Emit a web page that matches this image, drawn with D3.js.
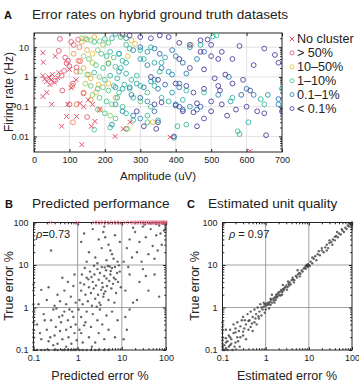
<!DOCTYPE html>
<html>
<head>
<meta charset="utf-8">
<title>Error rates on hybrid ground truth</title>
<script src="https://cdn.jsdelivr.net/npm/d3@7"></script>
<style>
body { margin: 0; background: #fff; }
svg { font-family: "Liberation Sans", Arial, Helvetica, sans-serif; }
</style>
</head>
<body>
<script>

// ---- panel A data: [amplitude uV, firing rate Hz, error %] ----
var noClusterA = [[25,6.5],[26,3.1],[25,1.1],[42,1.0],[36,0.7],[48,0.8],[57,0.65],[67,0.95],[45,0.55],[30,0.85],
  [52,1.2],[25,0.22],[36,0.3],[70,1.4],[119,0.8],[105,0.43],[50,0.12],[92,0.047],[120,0.047],[130,0.13],
  [153,0.17],[165,0.12],[186,0.08],[162,0.022],[78,0.022],[172,0.032],[229,0.01],[252,0.018],[271,0.03],
  [135,0.0053],[384,0.0095],[610,0.0032],[95,0.12],[140,0.1],[60,5],[100,1.8]]

var badA = [[73,19,80],[70,7.5,70],[96,3.5,65],[92,2.9,75],[105,15,60],[112,12,70],[100,2.3,85],[85,1.6,60],
  [60,0.75,70],[120,2.1,55],[130,3.4,65],[88,4.5,80],[78,1.1,70],[110,0.6,60],[140,0.28,55],[100,0.12,65],
  [150,0.045,60],[125,18,55],[80,0.35,75]]

var midA = [[135,15,20],[145,20,14],[112,6,25],[125,3.5,30],[140,2,18],[155,1.2,12],[160,0.9,15],[108,0.5,35],
  [182,0.55,13],[186,0.08,20],[160,0.17,25],[285,13,12],[275,17,15],[265,5,11],[444,12,11],[335,0.03,14],
  [110,0.03,30],[265,0.018,12],[120,1.5,40],[150,8,18],[165,6,12],[128,10,30],[175,0.3,16],[140,0.3,28],
  [210,3,11],[230,0.2,13],[120,0.12,35],[250,25,12],[170,22,15],[210,0.6,12]]

var goodA = [[135,20,5],[150,18,3],[160,17,6],[170,15,2.5],[185,16,4],[195,12,7],[200,19,2],[210,14,3.5],
  [220,20,1.5],[245,22,2],[260,12,1.8],[180,8,5],[190,6,3],[205,5,2.2],[215,7,1.6],[225,4.5,2.8],[240,6,1.3],
  [250,3.5,1.7],[140,5,6.5],[155,4,4],[165,3,8],[175,2.5,3],[195,2,2],[210,2.8,1.4],[230,2.2,1.9],[245,2,1.2],
  [130,1.5,5],[150,1.2,3.5],[170,1.4,2],[185,1,4.5],[200,0.8,2.5],[215,1.1,1.5],[235,0.9,1.1],[260,1.3,1.3],
  [275,0.8,2],[290,1.1,1.6],[145,0.6,7],[160,0.5,4],[180,0.4,2.5],[195,0.45,5],[210,0.35,3],[225,0.5,1.8],
  [240,0.3,2.2],[255,0.55,1.4],[270,0.4,3],[300,0.5,1.7],[320,0.3,2.5],[340,0.5,1.9],[165,0.25,6],[185,0.2,3],
  [205,0.15,2],[220,0.12,4],[235,0.2,1.5],[250,0.1,2.5],[280,0.2,1.3],[300,0.15,3.5],[330,0.1,2],[360,0.2,1.4],
  [180,0.08,4],[200,0.06,2.5],[215,0.05,6],[230,0.04,3],[260,0.06,1.8],[280,0.035,2.2],[320,0.05,1.6],
  [350,0.035,1.4],[170,0.017,3],[215,0.02,2],[260,0.018,1.5],[320,0.03,2.6],[395,0.009,1.7],[405,0.022,1.3],
  [430,0.025,2],[300,8,1.4],[310,4,1.2],[330,10,1.1],[270,9,2.1],[470,12,1.2],[505,23,1.5],[515,25,2],
  [480,0.3,1.5],[560,0.2,1.3],[575,0.015,1.8],[580,0.012,1.5],[605,0.03,1.2],[640,0.18,1.5],[650,0.12,1.2],
  [380,0.15,1.3],[430,0.35,1.8],[420,0.17,1.2],[360,3,1.1],[340,0.8,1.3],[355,1.5,1.2]]

var fineA = [[280,8,0.5],[300,10,0.3],[320,7,0.6],[340,9,0.4],[355,6,0.2],[370,4.5,0.8],[390,8,0.3],[400,5,0.5],
  [420,3,0.25],[440,10,0.6],[460,4,0.4],[480,7,0.3],[300,4,0.7],[320,2.5,0.4],[340,3,0.9],[360,2,0.35],
  [380,1.5,0.6],[270,0.45,0.5],[290,0.6,0.8],[310,0.45,0.3],[330,0.7,0.6],[350,0.4,0.45],[370,0.55,0.25],
  [390,0.3,0.7],[410,0.45,0.35],[250,0.4,0.9],[230,0.45,0.6],[275,0.25,0.4],[300,0.2,0.3],[320,0.15,0.5],
  [400,0.12,0.4],[410,0.1,0.2],[420,0.08,0.3],[440,0.1,0.6],[230,0.12,0.7],[250,0.07,0.5],[280,0.05,0.4],
  [300,0.04,0.6],[340,0.07,0.3],[220,0.025,0.5],[460,0.08,0.3],[470,0.1,0.2],[390,1.2,0.5],[410,0.6,0.3],
  [430,1.3,0.4],[260,3,0.8],[240,1.5,0.7],[550,1,0.3],[520,0.25,0.5],[600,0.4,0.3],[620,0.25,0.4],
  [660,0.25,0.6],[690,0.18,0.3],[690,0.12,0.5],[700,0.4,0.7],[585,0.25,0.2],[240,6,0.9],[260,20,0.7],
  [230,28,0.5],[555,0.15,0.8]]

var bestA = [[250,28,0.05],[270,25,0.03],[300,22,0.05],[330,20,0.08],[355,25,0.02],[380,22,0.06],[410,14,0.04],
  [440,12,0.07],[470,17,0.05],[490,18,0.03],[500,12,0.05],[530,7,0.04],[560,4,0.06],[470,7,0.02],[500,5,0.05],
  [520,4,0.03],[580,11,0.06],[620,2.5,0.05],[650,9,0.07],[680,5.5,0.04],[690,3,0.05],[410,4,0.03],[440,2,0.06],
  [480,1.8,0.04],[510,0.9,0.05],[540,1.2,0.02],[560,0.6,0.06],[590,0.8,0.05],[330,1,0.07],[350,0.8,0.04],
  [400,0.6,0.05],[430,0.5,0.07],[450,0.3,0.05],[480,0.4,0.03],[500,0.15,0.06],[525,0.35,0.04],[530,0.12,0.05],
  [460,0.13,0.03],[400,0.11,0.07],[360,0.14,0.05],[340,0.12,0.06],[420,0.07,0.04],[450,0.065,0.05],
  [480,0.04,0.06],[500,0.07,0.03],[545,0.05,0.05],[570,0.08,0.04],[600,0.1,0.05],[650,0.06,0.07],
  [655,0.011,0.05],[395,0.01,0.06],[460,0.022,0.05],[350,0.03,0.08],[630,0.07,0.05],[700,0.07,0.03],
  [310,0.022,0.05],[345,0.018,0.06],[290,0.07,0.07],[520,0.5,0.05],[610,0.35,0.07]]

var ampTicks = [0, 100, 200, 300, 400, 500, 600, 700]
var rateTicks = [0.01, 0.1, 1, 10]
var legendLabels = ["No cluster", "> 50%", "10\u201350%", "1\u201310%", "0.1\u20131%", "< 0.1%"]

// ---- panel B data: [predicted error %, true error %] ----
var predB = [[0.1,0.1],[0.12,0.1],[0.15,0.1],[0.18,0.1],[0.22,0.1],[0.3,0.1],[0.35,0.1],[0.45,0.1],[0.5,0.1],
  [0.6,0.1],[0.7,0.1],[0.8,0.1],[0.9,0.1],[1.1,0.1],[1.3,0.1],[1.6,0.1],[2,0.1],[2.5,0.1],[3,0.1],[4,0.1],[5,0.1],
  [0.1,0.12],[0.1,0.15],[0.1,0.2],[0.1,0.25],[0.1,0.3],[0.1,0.45],[0.1,0.6],[0.1,0.8],[0.1,1.2],[0.1,2.5],[0.1,3.5],
  [0.12,0.4],[0.15,0.18],[0.17,0.7],[0.2,0.3],[0.22,0.16],[0.25,0.5],[0.28,0.9],[0.3,0.22],[0.32,0.35],[0.35,0.14],
  [0.38,0.6],[0.4,0.28],[0.42,0.45],[0.45,0.18],[0.5,0.8],[0.55,0.3],[0.6,0.5],[0.62,0.2],[0.7,0.35],[0.72,0.14],
  [0.8,0.6],[0.85,0.25],[0.9,0.4],[0.95,0.17],[0.28,0.13],[0.14,0.25],[0.18,0.5],[0.45,0.65],[0.65,0.9],[0.75,0.8],
  [0.33,0.95],[0.55,0.12],[0.24,0.2],
  [0.13,1.2],[0.15,2.6],[0.2,1.5],[0.22,3],[0.3,1.1],[0.35,2],[0.4,1.4],[0.5,2.5],[0.55,1.2],[0.6,4],[0.7,1.8],
  [0.8,3.2],[0.9,1.3],[0.85,6],[0.45,5],[0.25,22],
  [1.1,0.3],[1.2,0.6],[1.3,0.15],[1.5,0.45],[1.6,0.8],[1.8,0.2],[2,0.35],[2.2,0.7],[2.5,0.15],[2.8,0.5],[3,0.25],
  [3.2,0.9],[3.6,0.4],[4,0.18],[4.5,0.65],[5,0.3],[6,0.8],[7,0.2],[1.05,0.9],[1.4,0.38],[2.1,0.12],[1.2,0.25],[8,0.5],
  [1.1,1.5],[1.2,2.5],[1.3,1.2],[1.4,3.5],[1.5,2],[1.6,5],[1.7,1.4],[1.8,3],[1.9,7],[2,2.2],[2.1,1.1],[2.2,4],
  [2.3,2.8],[2.4,6],[2.5,1.6],[2.6,3.3],[2.8,8],[2.9,2],[3,4.5],[3.1,1.3],[3.2,6.5],[3.4,2.6],[3.5,9],[3.6,3.8],
  [3.8,1.8],[4,5.5],[4.2,2.4],[4.4,7.5],[4.6,3.2],[4.8,9.5],[5,1.5],[5.2,4.2],[5.5,6],[5.8,2.8],[6,8.5],[6.3,3.6],
  [6.6,5],[7,9],[7.4,2.2],[7.8,6.5],[8.2,4],[8.6,9.8],[9,7],[9.5,3],[1.25,6],[1.45,8.5],[2.7,1.05],[3.3,1.15],
  [4.1,8.8],[5.3,9.2],[6.8,1.3],[1.15,3.8],[2.05,5.2],[3.7,3],[4.5,4.8],[2.35,9.6],[1.75,4.6],[3.9,2.1],[5.6,7.2],
  [7.2,4.6],
  [1.2,35],[1.4,55],[1.8,20],[2.2,70],[2.5,15],[3,40],[3.5,25],[4,80],[4.5,13],[5,30],[6,18],[7,50],[8,12],[2.8,11],
  [3.8,60],[5.5,22],[9,35],[6.5,14],[1.6,12],[4.2,45],
  [12,2.5],[15,6],[18,1.3],[25,4],[30,8],[40,2.5],[55,6],[70,1.8],[14,9],[35,5.5],[22,1.5],
  [12,0.6],[13,0.3],[11,0.18],[15,0.9],
  [11,12],[13,25],[15,40],[17,15],[20,60],[22,20],[25,35],[28,12],[30,80],[35,45],[40,18],[45,70],[50,28],[55,14],
  [60,50],[70,85],[80,30],[90,65],[95,90],[100,95],[85,95],[75,55],[65,22],[18,75],[33,90],[45,95],[60,92],[98,70],
  [100,100],[90,100]]

// units that got no cluster sit at 100% true error
var missedB = [0.24, 1.0, 2.4, 2.8, 3.2, 3.8, 4.5, 5.2, 6.5, 7.5, 9, 12, 15, 18, 20, 22, 25, 28, 30, 33, 36, 40,
  44, 48, 52, 56, 60, 65, 70, 75, 80, 85, 90, 95, 100]

// ---- panel C data: [estimated error %, true error %] ----
var estC = [[0.1,0.1],[0.1,0.12],[0.1,0.14],[0.1,0.17],[0.1,0.2],[0.1,0.25],[0.1,0.3],[0.11,0.1],[0.12,0.11],
  [0.12,0.15],[0.13,0.1],[0.14,0.22],[0.15,0.13],[0.15,0.3],[0.16,0.18],[0.17,0.1],[0.18,0.25],[0.18,0.4],
  [0.2,0.15],[0.2,0.32],[0.22,0.2],[0.22,0.45],[0.24,0.28],[0.25,0.12],[0.26,0.36],[0.28,0.5],[0.3,0.22],
  [0.3,0.6],[0.32,0.32],[0.35,0.4],[0.35,0.18],[0.38,0.7],[0.4,0.3],[0.42,0.5],[0.45,0.35],[0.45,0.8],[0.5,0.6],
  [0.5,0.28],[0.55,0.45],[0.55,0.9],[0.6,0.7],[0.62,0.4],[0.65,1.0],[0.7,0.55],[0.72,0.8],[0.75,1.2],[0.8,0.65],
  [0.85,0.9],[0.9,1.3],[0.95,0.75],[0.11,0.13],[0.13,0.16],[0.12,0.19],[0.14,0.12],[0.16,0.14],[0.19,0.12],
  [0.23,0.16],[0.26,0.2],[0.4,0.48],[0.48,0.42],[0.3,0.27],[0.58,0.55],[0.68,0.62],[0.33,0.5],[0.2,0.26],
  [0.15,0.2],[0.1,0.35],[0.1,0.45],[0.12,0.3],
  [1,1.1],[1.05,1.25],[1.1,1.15],[1.15,1.3],[1.2,1.2],[1.25,1.35],[1.3,1.15],[1.35,1.5],[1.4,1.3],[1.5,1.6],
  [1.55,1.45],[1.6,1.7],[1.7,1.8],[1.75,2.0],[1.8,1.7],[1.9,2.1],[2,2.3],[2.1,2.0],[2.2,2.4],[2.3,2.6],[2.4,2.3],
  [2.5,2.7],[2.6,2.5],[2.8,3.0],[3,3.3],[3.2,3.0],[3.4,3.6],[3.6,3.9],[3.8,3.5],[4,4.4],[4.3,4.6],[4.6,4.4],
  [5,5.5],[5.3,5.1],[5.6,6.0],[6,6.5],[6.4,6.2],[6.8,7.4],[7.2,7.0],[7.6,8.2],[8,8.6],[8.5,8.2],[9,9.5],
  [9.5,10.5],[1.2,0.95],[1.6,1.3],[2.2,1.9],[3.1,2.6],[4.5,3.9],[1.4,2.0],[2.5,3.4],[5.5,7.5],[0.8,1.0],
  [0.9,1.05],[0.95,1.2],[1.0,0.9],[3.5,3.3],[2.7,2.8],[1.9,1.85],[1.3,1.6],[2.4,2.0],[4.2,5.0],[6.2,5.4],
  [1.7,1.5],[3.3,4.1],
  [10,10],[10.5,9.5],[11,12],[12,11],[13,14],[14,16],[15,13],[16,18],[18,17],[20,22],[22,20],[24,26],[26,30],
  [28,25],[30,33],[33,35],[36,40],[40,38],[43,48],[47,45],[50,55],[55,52],[60,65],[65,60],[70,75],[75,70],
  [80,85],[85,80],[90,92],[95,88],[100,100],[100,95],[100,90],[100,80],[100,70],[98,96],[9,10],[9.5,9],
  [8.5,9.5],[12,15],[20,25],[35,30],[58,70],[45,60],[30,38],[17,21],[26,22],[40,46]]

var errTicks = [0.1, 1, 10, 100]

var W = 359, H = 384
var svg = d3.select("body").append("svg")
  .attr("width", W).attr("height", H)

// colour by error rate (log10 of %), red -> yellow -> green -> blue -> purple
var errColor = d3.scaleLinear()
  .domain([-2, -1.3, -0.7, -0.3, 0, 0.4, 0.8, 1.05, 1.35, 1.7, 2])
  .range(["#4a2a8a", "#51409e", "#3a62ae", "#2b8ab6", "#2bb2a8", "#45c48e", "#98d06a", "#e6c546", "#efa044", "#e6637c", "#e24f68"])
  .clamp(true)
var legendColors = ["#e4506a", "#e4607c", "#e6c250", "#4cc49c", "#3a8eb8", "#5242a0"]

function minorTicks(lo, hi) {
  var out = []
  for (var e = Math.floor(Math.log10(lo)); e <= Math.ceil(Math.log10(hi)); e++) {
    for (var m = 2; m < 10; m++) {
      var v = m * Math.pow(10, e)
      if (v > lo && v < hi) out.push(v)
    }
  }
  return out
}

// boxed axes with inward ticks, matlab style
function drawBox(x, y, xt, yt, gridColor, xMinor, yMinor) {
  var g = svg.append("g")
  var x0 = x.range()[0], x1 = x.range()[1], y0 = y.range()[0], y1 = y.range()[1]

  // grid
  g.selectAll(".gx").data(xt.filter(function(d) { return x(d) > x0 + 1 && x(d) < x1 - 1 }))
    .enter().append("line")
    .attr("x1", function(d) { return x(d) }).attr("x2", function(d) { return x(d) })
    .attr("y1", y0).attr("y2", y1)
    .attr("stroke", gridColor).attr("stroke-width", 0.8)
  g.selectAll(".gy").data(yt.filter(function(d) { return y(d) < y0 - 1 && y(d) > y1 + 1 }))
    .enter().append("line")
    .attr("y1", function(d) { return y(d) }).attr("y2", function(d) { return y(d) })
    .attr("x1", x0).attr("x2", x1)
    .attr("stroke", gridColor).attr("stroke-width", 0.8)

  var fmt = function(d) { return String(d) }
  var axes = [
    [d3.axisBottom(x).tickValues(xt).tickFormat(fmt), "translate(0," + y0 + ")", true],
    [d3.axisTop(x).tickValues(xt).tickFormat(""), "translate(0," + y1 + ")", false],
    [d3.axisLeft(y).tickValues(yt).tickFormat(fmt), "translate(" + x0 + ",0)", true],
    [d3.axisRight(y).tickValues(yt).tickFormat(""), "translate(" + x1 + ",0)", false]
  ]
  axes.forEach(function(a) {
    var ax = g.append("g").attr("transform", a[1])
      .call(a[0].tickSizeInner(-3).tickSizeOuter(0).tickPadding(a[2] ? 5 : 0))
    ax.select(".domain").remove()
    ax.selectAll("line").attr("stroke", "#222")
    ax.selectAll("text").style("font-size", "9px").attr("fill", "#222")
  })

  // minor ticks
  if (xMinor) {
    [d3.axisBottom(x), d3.axisTop(x)].forEach(function(a, i) {
      var ax = g.append("g").attr("transform", "translate(0," + (i ? y1 : y0) + ")")
        .call(a.tickValues(xMinor).tickFormat("").tickSizeInner(-1.8).tickSizeOuter(0))
      ax.select(".domain").remove()
      ax.selectAll("line").attr("stroke", "#222")
    })
  }
  if (yMinor) {
    [d3.axisLeft(y), d3.axisRight(y)].forEach(function(a, i) {
      var ax = g.append("g").attr("transform", "translate(" + (i ? x1 : x0) + ",0)")
        .call(a.tickValues(yMinor).tickFormat("").tickSizeInner(-1.8).tickSizeOuter(0))
      ax.select(".domain").remove()
      ax.selectAll("line").attr("stroke", "#222")
    })
  }

  g.append("rect")
    .attr("x", x0).attr("y", y1)
    .attr("width", x1 - x0).attr("height", y0 - y1)
    .attr("fill", "none").attr("stroke", "#222").attr("stroke-width", 1)
  return g
}

function crossPath(cx, cy, s) {
  return "M" + (cx - s) + "," + (cy - s) + "L" + (cx + s) + "," + (cy + s) +
    "M" + (cx - s) + "," + (cy + s) + "L" + (cx + s) + "," + (cy - s)
}

function title(letter, lx, tx, ty, txt) {
  svg.append("text").attr("x", lx).attr("y", ty)
    .style("font-size", "11px").style("font-weight", "bold").attr("fill", "#111").text(letter)
  svg.append("text").attr("x", tx).attr("y", ty)
    .style("font-size", "13.6px").attr("fill", "#222").text(txt)
}

function yLabel(cx, cy, txt, size) {
  svg.append("text")
    .attr("transform", "translate(" + cx + "," + cy + ") rotate(-90)")
    .attr("text-anchor", "middle")
    .style("font-size", size).attr("fill", "#222").text(txt)
}

function xLabel(cx, cy, txt, size) {
  svg.append("text").attr("x", cx).attr("y", cy)
    .attr("text-anchor", "middle")
    .style("font-size", size).attr("fill", "#222").text(txt)
}

// ================= panel A =================
var xA = d3.scaleLinear().domain([0, 700]).range([34, 282])
var yA = d3.scaleLog().domain([0.003, 30]).range([152, 33])

var gA = drawBox(xA, yA, ampTicks, rateTicks, "#dcdcdc", null, minorTicks(0.003, 30))

var circlesA = badA.concat(midA, goodA, fineA, bestA)
svg.append("clipPath").attr("id", "clipA").append("rect")
  .attr("x", 33).attr("y", 32).attr("width", 250).attr("height", 121)
var ptsA = svg.append("g").attr("clip-path", "url(#clipA)")

ptsA.selectAll("circle").data(circlesA).enter().append("circle")
  .attr("cx", function(d) { return xA(d[0]) })
  .attr("cy", function(d) { return yA(d[1]) })
  .attr("r", 2.4)
  .attr("fill", "none")
  .attr("stroke", function(d) { return errColor(Math.log10(d[2])) })
  .attr("stroke-width", 0.9)

ptsA.selectAll("path").data(noClusterA).enter().append("path")
  .attr("d", function(d) { return crossPath(xA(d[0]), yA(d[1]), 2.4) })
  .attr("stroke", "#e4506a").attr("stroke-width", 1).attr("fill", "none")

title("A", 4, 32, 19, "Error rates on hybrid ground truth datasets")
yLabel(13, 92, "Firing rate (Hz)", "12px")
xLabel(158, 180, "Amplitude (uV)", "11.5px")

// legend
var leg = svg.append("g")
legendLabels.forEach(function(lab, i) {
  var ly = 39 + i * 13.9
  if (i == 0) {
    leg.append("path").attr("d", crossPath(292, ly, 2.2))
      .attr("stroke", legendColors[i]).attr("stroke-width", 1).attr("fill", "none")
  } else {
    leg.append("circle").attr("cx", 292).attr("cy", ly).attr("r", 2)
      .attr("fill", "none").attr("stroke", legendColors[i]).attr("stroke-width", 0.9)
  }
  leg.append("text").attr("x", 297).attr("y", ly + 4.4)
    .style("font-size", "12.6px").attr("fill", "#222").text(lab)
})

// ================= panel B =================
var xB = d3.scaleLog().domain([0.1, 100]).range([33.5, 166])
var yB = d3.scaleLog().domain([0.1, 100]).range([350, 222.5])

drawBox(xB, yB, errTicks, errTicks, "#8a8a8a", minorTicks(0.1, 100), minorTicks(0.1, 100))

svg.append("g").selectAll("circle").data(predB).enter().append("circle")
  .attr("cx", function(d) { return xB(d[0]) })
  .attr("cy", function(d) { return yB(d[1]) })
  .attr("r", 1.2)
  .attr("fill", "#333").attr("fill-opacity", 0.75)

svg.append("g").selectAll("path").data(missedB).enter().append("path")
  .attr("d", function(d) { return crossPath(xB(d), yB(100), 2) })
  .attr("stroke", "#e4607c").attr("stroke-width", 0.8).attr("fill", "none").attr("opacity", 0.9)

svg.append("text").attr("x", 36).attr("y", 238)
  .style("font-size", "11px").attr("fill", "#222")
  .html("<tspan font-style='italic'>\u03c1</tspan>=0.73")

title("B", 5, 32, 208, "Predicted performance")
yLabel(13, 286, "True error %", "12.5px")
xLabel(100, 380, "Predicted error %", "12.5px")

// ================= panel C =================
var xC = d3.scaleLog().domain([0.1, 100]).range([222.5, 352])
var yC = d3.scaleLog().domain([0.1, 100]).range([350, 222.5])

drawBox(xC, yC, errTicks, errTicks, "#8a8a8a", minorTicks(0.1, 100), minorTicks(0.1, 100))

svg.append("g").selectAll("circle").data(estC).enter().append("circle")
  .attr("cx", function(d) { return xC(d[0]) })
  .attr("cy", function(d) { return yC(d[1]) })
  .attr("r", 1.2)
  .attr("fill", "#333").attr("fill-opacity", 0.75)

svg.append("text").attr("x", 229).attr("y", 238)
  .style("font-size", "11px").attr("fill", "#222")
  .html("<tspan font-style='italic'>\u03c1</tspan> = 0.97")

title("C", 187, 208, 208, "Estimated unit quality")
yLabel(199, 286, "True error %", "12.5px")
xLabel(287, 380, "Estimated error %", "12.5px")

</script>
</body>
</html>
